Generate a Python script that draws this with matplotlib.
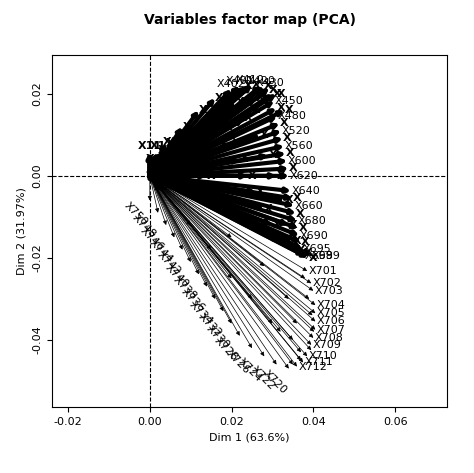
import matplotlib
matplotlib.use("Agg")
import matplotlib.pyplot as plt

# upper fan, outer edge
up_x = [0.0200,0.0220,0.0244,0.0273,0.0293,0.0305,0.0312,0.0322,0.0329,0.0337,0.0341,0.0346,0.0354,0.0361,0.0366,0.0373,0.0380,0.0395]
up_y = [0.0212,0.0220,0.0222,0.0220,0.0215,0.0183,0.0146,0.0110,0.0073,0.0037,0.0000,-0.0037,-0.0073,-0.0110,-0.0146,-0.0178,-0.0195,-0.0195]
up_n = ["X402","X401","X410","X420","X430","X450","X480","X520","X560","X600","X620","X640","X660","X680","X690","X695","X698","X699"]
# upper fan, interior
in_x = [0.015,0.018,0.020,0.022,0.024,0.026,0.028,0.030,0.032,0.025,0.027,0.029,0.031,0.033,0.034,0.010,0.012,0.014,0.016,0.018,0.004,0.008,0.012,0.016,0.021,0.023,0.026,0.029,0.031,0.033,0.035,0.036,0.0300,0.0310,0.0318,0.0326,0.0333,0.0340,0.0350,0.0358,0.0364,0.0370,0.0376,0.0388,0.0280,0.0250,0.0230]
in_y = [0.015,0.012,0.008,0.004,0.000,-0.004,-0.008,-0.012,-0.016,0.016,0.010,0.005,0.000,-0.006,-0.012,0.006,0.003,0.000,-0.003,-0.006,0.008,0.012,0.016,0.019,0.018,0.014,0.019,0.021,0.020,0.016,-0.016,-0.018,0.0200,0.0165,0.0128,0.0092,0.0055,0.0018,-0.0055,-0.0092,-0.0128,-0.0162,-0.0188,-0.0200,0.0218,0.0222,0.0218]
# lower group, labelled tips
lo_x = [0.0385,0.0395,0.0400,0.0405,0.0405,0.0405,0.0405,0.0400,0.0395,0.0385,0.0375,0.0360]
lo_y = [-0.0232,-0.0262,-0.0280,-0.0315,-0.0335,-0.0355,-0.0375,-0.0395,-0.0412,-0.0440,-0.0455,-0.0465]
lo_n = ["X701","X702","X703","X704","X705","X706","X707","X708","X709","X710","X711","X712"]
# lower-left edge
ll_x = [0.000,0.002,0.004,0.006,0.008,0.010,0.012,0.014,0.016,0.018,0.020,0.022,0.025,0.028,0.031,0.034]
ll_y = [-0.006,-0.009,-0.012,-0.015,-0.018,-0.021,-0.024,-0.027,-0.030,-0.033,-0.036,-0.039,-0.042,-0.044,-0.046,-0.047]
ll_n = ["X750","X748","X746","X744","X742","X740","X738","X736","X734","X732","X730","X728","X726","X724","X722","X720"]
# lower interior
mi_x = [0.010,0.015,0.020,0.025,0.030,0.035,0.020,0.028,0.034,0.032,0.036,0.037,0.0380,0.0390,0.0398,0.0402,0.0395,0.0370,0.0350]
mi_y = [-0.012,-0.018,-0.025,-0.030,-0.036,-0.040,-0.015,-0.022,-0.030,-0.038,-0.036,-0.043,-0.0250,-0.0300,-0.0340,-0.0380,-0.0425,-0.0450,-0.0460]
# short arrows near origin
sh_x = [0.002,0.004,0.006,0.001,0.003,0.008,0.005,0.002,0.007,0.009,0.0,0.006,0.010,0.011,0.012,0.004]
sh_y = [0.006,0.005,0.004,0.003,0.002,0.002,0.000,-0.002,-0.002,0.005,0.006,0.007,0.001,-0.001,0.004,-0.004]
sh_n = ["X1","X2","X3","X4","X5","X6","X7","X8","X9","X10","X11","X12","X13","X14","X15","X16"]

fig = plt.figure(figsize=(4.74, 4.73), dpi=100)
ax = fig.add_axes([0.110, 0.140, 0.833, 0.744])
ax.set_xlim(-0.0239, 0.0727)
ax.set_ylim(-0.0563, 0.0295)

def arrows(xs, ys, lw=0.7):
    for x, y in zip(xs, ys):
        ax.annotate("", xy=(x, y), xytext=(0, 0),
                    arrowprops=dict(arrowstyle="-|>", lw=lw, color="black",
                                    mutation_scale=6, shrinkA=0, shrinkB=0))

arrows(mi_x, mi_y, 0.5)
arrows(lo_x, lo_y, 0.5)
arrows(ll_x, ll_y, 0.5)
arrows(in_x, in_y, 3.0)
arrows(up_x, up_y, 3.0)
arrows(sh_x, sh_y, 4.0)

fs = 8
for x, y, n in zip(up_x, up_y, up_n):
    ax.text(x, y, n, fontsize=fs, ha="left" if y < 0.02 else "center", va="bottom" if y > 0.02 else "center")
for x, y, n in zip(lo_x, lo_y, lo_n):
    ax.text(x + 0.0003, y, n, fontsize=fs, ha="left", va="center")
for x, y, n in zip(ll_x, ll_y, ll_n):
    ax.text(x, y, n, fontsize=fs, ha="right", va="top", rotation=-45)
for x, y, n in zip(sh_x, sh_y, sh_n):
    ax.text(x, y, n, fontsize=fs, ha="center", va="bottom", fontweight="bold")
for x, y in zip(in_x, in_y):
    ax.text(x, y, "X", fontsize=fs, ha="left", va="center", fontweight="bold")

ax.axhline(0, color="black", ls="--", lw=0.8)
ax.axvline(0, color="black", ls="--", lw=0.8)
ax.set_xticks([-0.02, 0.0, 0.02, 0.04, 0.06])
ax.set_xticklabels(["-0.02", "0.00", "0.02", "0.04", "0.06"], fontsize=8)
ax.set_yticks([-0.04, -0.02, 0.0, 0.02])
ax.set_yticklabels(["-0.04", "-0.02", "0.00", "0.02"], fontsize=8, rotation=90, va="center")
ax.set_xlabel("Dim 1 (63.6%)", fontsize=8)
ax.set_ylabel("Dim 2 (31.97%)", fontsize=8)
ax.set_title("Variables factor map (PCA)", fontsize=10, fontweight="bold", pad=22)
fig.savefig("out.png", dpi=100)
